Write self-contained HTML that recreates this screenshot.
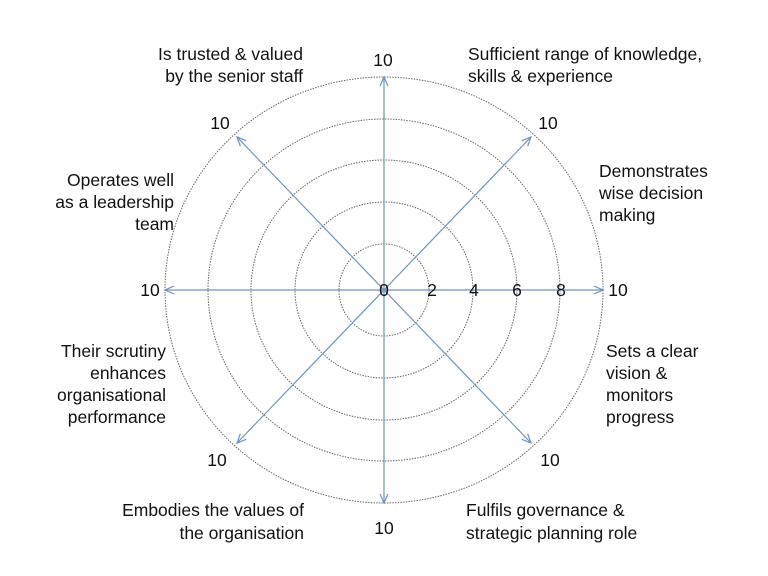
<!DOCTYPE html>
<html><head><style>body{margin:0;background:#fff}svg{display:block}text{font-family:"Liberation Sans",sans-serif;font-size:17.5px;fill:#111}</style></head><body>
<svg width="768" height="576" viewBox="0 0 768 576">
<defs><marker id="a" markerWidth="12" markerHeight="12" refX="10" refY="5" orient="auto" markerUnits="userSpaceOnUse"><path d="M1,1 L10,5 L1,9" fill="none" stroke="#6d93c2" stroke-width="1.2"/></marker></defs>
<g fill="none" stroke="#666" stroke-width="1" stroke-dasharray="1.5,1.2">
<ellipse cx="384" cy="290" rx="45" ry="46"/>
<ellipse cx="384" cy="290" rx="89" ry="88"/>
<ellipse cx="384" cy="290" rx="133" ry="130"/>
<ellipse cx="384" cy="290" rx="176" ry="171"/>
<ellipse cx="384" cy="290" rx="219" ry="213"/>
</g>
<g stroke="#6d93c2" stroke-width="1.2" marker-end="url(#a)">
<line x1="384" y1="290" x2="384" y2="77"/>
<line x1="384" y1="290" x2="531" y2="137"/>
<line x1="384" y1="290" x2="603" y2="290"/>
<line x1="384" y1="290" x2="531" y2="443"/>
<line x1="384" y1="290" x2="384" y2="503"/>
<line x1="384" y1="290" x2="237" y2="443"/>
<line x1="384" y1="290" x2="165" y2="290"/>
<line x1="384" y1="290" x2="237" y2="137"/>
</g>
<g text-anchor="middle" style="font-size:16.5px">
<text x="384" y="296">0</text><text x="432" y="296">2</text><text x="474" y="296">4</text><text x="517" y="296">6</text><text x="561" y="296">8</text>
<text x="383" y="66">10</text><text x="548" y="129">10</text><text x="618" y="296">10</text><text x="550" y="466">10</text><text x="384" y="534">10</text><text x="217" y="466">10</text><text x="150" y="296">10</text><text x="220" y="129">10</text>
</g>
<text x="468" y="60">Sufficient range of knowledge,</text>
<text x="468" y="82">skills &amp; experience</text>
<text x="599" y="177">Demonstrates</text><text x="599" y="199">wise decision</text><text x="599" y="221">making</text>
<text x="606" y="357">Sets a clear</text><text x="606" y="379">vision &amp;</text><text x="606" y="401">monitors</text><text x="606" y="423">progress</text>
<text x="466" y="516">Fulfils governance &amp;</text><text x="466" y="539">strategic planning  role</text>
<g text-anchor="end">
<text x="303" y="60">Is trusted &amp; valued</text><text x="303" y="82">by the senior staff</text>
<text x="174" y="186">Operates well</text><text x="174" y="208">as a leadership</text><text x="174" y="230">team</text>
<text x="166" y="357">Their scrutiny</text><text x="166" y="379">enhances</text><text x="166" y="401">organisational</text><text x="166" y="423">performance</text>
<text x="304" y="516">Embodies the values of</text><text x="304" y="539">the organisation</text>
</g>
</svg></body></html>
